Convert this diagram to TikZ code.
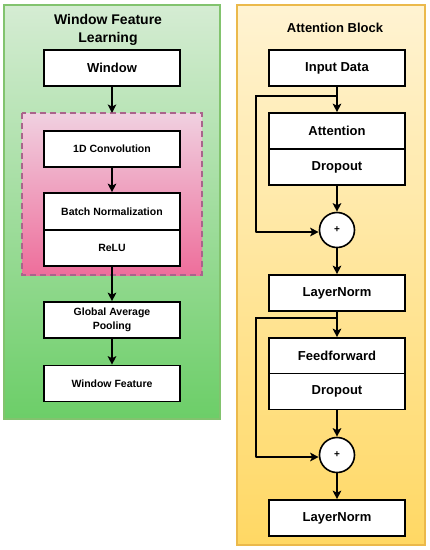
\documentclass[tikz,border=0pt]{standalone}
\usepackage{fontspec}
\setmainfont{Liberation Sans}
\usetikzlibrary{arrows.meta,shapes.geometric}
\definecolor{greentop}{RGB}{213,236,211}
\definecolor{greenbot}{RGB}{108,206,104}
\definecolor{greenline}{RGB}{130,195,110}
\definecolor{pinktop}{RGB}{240,208,224}
\definecolor{pinkbot}{RGB}{238,110,155}
\definecolor{pinkline}{RGB}{170,100,140}
\definecolor{yeltop}{RGB}{255,243,210}
\definecolor{yelbot}{RGB}{255,216,100}
\definecolor{yelline}{RGB}{235,185,75}
\tikzset{
  blk/.style={draw=black, line width=1.6pt, fill=white, minimum width=136pt, minimum height=36pt, inner sep=0pt, align=center, font=\bfseries\fontsize{13}{15}\selectfont},
  sblk/.style={blk, font=\bfseries\fontsize{10.5}{13}\selectfont},
  sum/.style={circle, draw=black, line width=1.6pt, fill=white, minimum size=35pt, inner sep=0pt, font=\bfseries\fontsize{10}{12}\selectfont},
  conn/.style={line width=1.7pt, -{Stealth[length=8.5pt,width=8.5pt,inset=2pt]}},
  plain/.style={line width=1.7pt},
  ttl/.style={font=\bfseries\fontsize{14}{18}\selectfont, align=center},
}
\begin{document}
\begin{tikzpicture}[x=1pt,y=-1pt]
\useasboundingbox (0,0) rectangle (430,550);
% panels
\shade[top color=greentop, bottom color=greenbot, draw=greenline, line width=1.5pt] (4,5) rectangle (220,419);
\shade[top color=yeltop, bottom color=yelbot, draw=yelline, line width=1.5pt] (237,5) rectangle (425,545);
\shade[top color=pinktop, bottom color=pinkbot] (22,113) rectangle (202,275);
\draw[pinkline, line width=1.5pt, dash pattern=on 6pt off 4pt] (22,113) rectangle (202,275);
\coordinate (pinktopc) at (112,113);
% titles
\node[ttl] (t1) at (108,30) {Window Feature\\Learning};
\node[font=\bfseries\fontsize{13}{15}\selectfont] (t2) at (335,28) {Attention Block};
% left column
\node[blk] (win) at (112,68) {Window};
\node[sblk] (conv) at (112,149) {1D Convolution};
\node[sblk, minimum height=37pt] (bn) at (112,211.5) {Batch Normalization};
\node[sblk] (relu) at (112,248) {ReLU};
\node[sblk, font=\bfseries\fontsize{10.5}{14}\selectfont] (gap) at (112,320) {Global Average\\Pooling};
\node[sblk] (wf) at (112,383.5) {Window Feature};
\draw[conn] (win.south) -- (pinktopc);
\draw[conn] (conv) -- (bn);
\draw[conn] (relu) -- (gap);
\draw[conn] (gap) -- (wf);
% right column
\node[blk] (inp) at (337,68) {Input Data};
\node[blk] (att) at (337,131) {Attention};
\node[blk] (do1) at (337,167) {Dropout};
\node[sum] (s1) at (337,230) {+};
\node[blk] (ln1) at (337,293) {LayerNorm};
\node[blk] (ff) at (337,356) {Feedforward};
\node[blk] (do2) at (337,391.5) {Dropout};
\node[sum] (s2) at (337,455) {+};
\node[blk] (ln2) at (337,518) {LayerNorm};
\coordinate (b1) at (337,96);
\coordinate (l1a) at (256,96);
\coordinate (l1b) at (256,232);
\coordinate (b2) at (337,318);
\coordinate (l2a) at (256,318);
\coordinate (l2b) at (256,457);
\draw[conn] (inp) -- (att);
\draw[plain, line cap=round] (b1) -- (l1a) -- (l1b);
\draw[conn] (l1b) -- (s1.west |- l1b);
\draw[conn] (do1) -- (s1);
\draw[conn] (s1) -- (ln1);
\draw[conn] (ln1) -- (ff);
\draw[plain, line cap=round] (b2) -- (l2a) -- (l2b);
\draw[conn] (l2b) -- (s2.west |- l2b);
\draw[conn] (do2) -- (s2);
\draw[conn] (s2) -- (ln2);
\end{tikzpicture}
\end{document}
